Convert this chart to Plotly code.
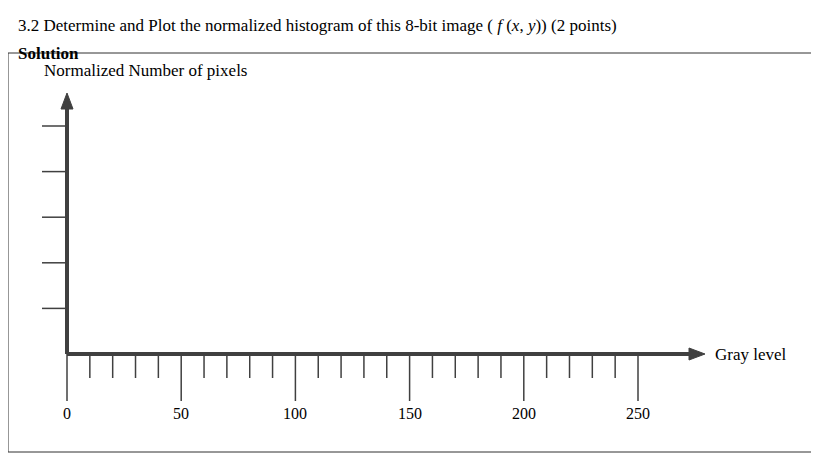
import plotly.graph_objects as go

W, H = 819, 462
x_major = [0, 50, 100, 150, 200, 250]
x_minor = [v for v in range(10, 260, 10) if v % 50 != 0]
y_ticks = [1, 2, 3, 4, 5]
x_label = "Gray level"
y_label = "Normalized Number of pixels"

OFF = 8  # page offset compensation
sx = 2.284   # px per gray level
sy = 45.6    # px per y unit
x0px, y0px = 67 - OFF, 354 - OFF
xr = [-x0px / sx, (W - x0px) / sx]
yr = [-(H - y0px) / sy, y0px / sy]
def dx(px): return px / sx
def dy(px): return px / sy
def px_(p): return (p - OFF) / W
def py_(p): return 1 - (p - OFF) / H

col = "#404040"
fig = go.Figure()
def line(xs, ys, w):
    fig.add_trace(go.Scatter(x=xs, y=ys, mode="lines", line=dict(color=col, width=w),
                             hoverinfo="skip", showlegend=False))
x_end = dx(705 - 67)
y_end = dy(354 - 93)
line([0, x_end - dx(14)], [0, 0], 4)
line([0, 0], [0, y_end - dy(14)], 4)
fig.add_trace(go.Scatter(x=[x_end - dx(16), x_end, x_end - dx(16), x_end - dx(16)],
                         y=[dy(6), 0, -dy(6), dy(6)], fill="toself", fillcolor=col,
                         mode="lines", line=dict(color=col, width=1), hoverinfo="skip", showlegend=False))
fig.add_trace(go.Scatter(x=[-dx(6), 0, dx(6), -dx(6)],
                         y=[y_end - dy(16), y_end, y_end - dy(16), y_end - dy(16)], fill="toself", fillcolor=col,
                         mode="lines", line=dict(color=col, width=1), hoverinfo="skip", showlegend=False))
for v in x_major:
    line([v, v], [0, -dy(47)], 1.5)
for v in x_minor:
    line([v, v], [0, -dy(24)], 1.5)
for v in y_ticks:
    line([-dx(25), 0], [v, v], 1.5)

F = "Liberation Serif"
ann = []
for v in x_major:
    ann.append(dict(x=v, y=-dy(59), text=str(v), showarrow=False, xref="x", yref="y",
                    font=dict(size=16, family=F, color="black")))
ann.append(dict(x=dx(713 - 67), y=0, text=x_label, showarrow=False, xanchor="left", xref="x", yref="y",
                font=dict(size=17, family=F, color="black")))
ann.append(dict(x=-dx(25), y=dy(354 - 70), text=y_label, showarrow=False, xanchor="left", xref="x", yref="y",
                font=dict(size=17, family=F, color="black")))
ann.append(dict(x=px_(16), y=py_(14), xref="paper", yref="paper", xanchor="left", showarrow=False,
                text="3.2 Determine and Plot the normalized histogram of this 8-bit image ( <i>f</i> (<i>x</i>, <i>y</i>)) (2 points)",
                font=dict(size=17, family=F, color="black")))
ann.append(dict(x=px_(16), y=py_(42), xref="paper", yref="paper", xanchor="left", showarrow=False,
                text="<b>Solution</b>", font=dict(size=17, family=F, color="black")))

fig.update_layout(
    width=W, height=H, margin=dict(l=0, r=0, t=0, b=0),
    paper_bgcolor="white", plot_bgcolor="white",
    xaxis=dict(range=xr, visible=False, fixedrange=True),
    yaxis=dict(range=yr, visible=False, fixedrange=True),
    annotations=ann,
    shapes=[dict(type="rect", xref="paper", yref="paper", x0=px_(8), x1=px_(812),
                 y0=py_(452), y1=py_(53), line=dict(color="#303030", width=1))],
)
fig.write_html("out.html")
